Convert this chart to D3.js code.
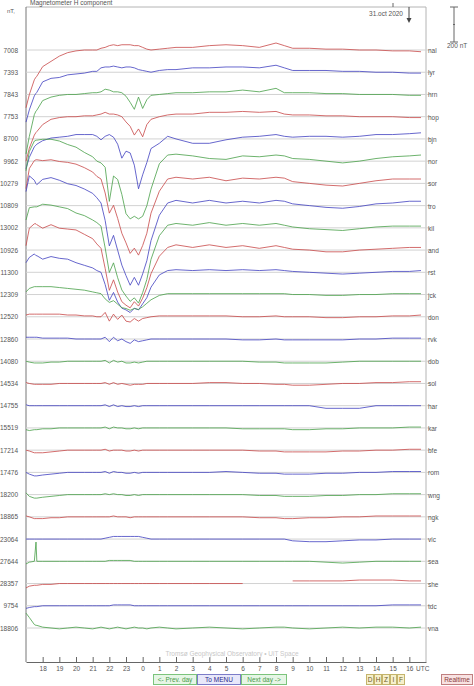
<!DOCTYPE html>
<html>
<head>
  <meta charset="utf-8">
  <title>Magnetometer H component - stackplot</title>
  <style>
    body { margin: 0; background: #fff; }
    svg { display: block; font-family: "Liberation Sans", Arial, sans-serif; }
  </style>
</head>
<body>
<svg width="474" height="686"></svg>
<script src="https://cdn.jsdelivr.net/npm/d3@7"></script>
<script>
// hours after 17 UTC (30 Oct) ... 17 UTC (31 Oct)
var hours = [0, 0.2, 0.5, 0.6, 0.65, 1, 1.5, 2, 2.5, 3, 3.5, 4, 4.25, 4.5, 4.75,
  5, 5.25, 5.5, 5.75, 6, 6.25, 6.5, 6.75, 7, 7.25, 7.5, 8, 8.5, 9, 10,
  11, 12, 13, 14, 15, 15.5, 16, 17, 18, 19, 20, 21, 22, 23, 23.7];

var stations = ["nal", "lyr", "hrn", "hop", "bjn", "nor", "sor", "tro", "kil", "and",
  "rst", "jck", "don", "rvk", "dob", "sol", "har", "kar", "bfe", "rom",
  "wng", "ngk", "vic", "sea", "she", "tdc", "vna"];

// baseline of each trace (nT)
var baseLabels = ["7008", "7393", "7843", "7753", "8700", "9962", "10279", "10809", "13002", "10926",
  "11300", "12309", "12520", "12860", "14080", "14534", "14755", "15519", "17214", "17476",
  "18200", "18865", "23064", "27644", "28357", "9754", "18806"];

var tickHours = [1, 2, 3, 4, 5, 6, 7, 8, 9, 10, 11, 12, 13, 14, 15, 16, 17, 18, 19, 20, 21, 22, 23];
var tickLabels = ["18", "19", "20", "21", "22", "23", "0", "1", "2", "3", "4", "5", "6", "7", "8",
  "9", "10", "11", "12", "13", "14", "15", "16"];

// H deviation from baseline, nT
var nal = [-330,-255,-170,-155,-150,-95,-65,-35,-15,-5,0,0,0,10,15,25,30,25,30,30,30,25,25,15,5,0,5,10,15,15,25,30,25,15,40,25,10,10,5,5,0,0,-5,-5,-10];
var lyr = [-285,-215,-135,-120,-115,-55,-35,-30,-15,-10,-5,5,5,25,30,30,35,30,25,30,30,25,15,10,5,0,10,15,15,25,25,30,30,25,40,25,10,10,10,5,5,0,0,-5,-5];
var hrn = [-340,-240,-115,-95,-90,-35,-15,-5,0,0,5,10,10,15,30,25,15,15,10,-10,-45,-85,-15,-80,-30,-5,0,5,10,10,15,15,25,15,35,10,10,10,5,5,0,0,0,-5,-5];
var hop = [-255,-180,-105,-90,-85,-45,-15,-5,0,0,5,5,10,15,25,15,15,10,0,-30,-55,-105,-70,-115,-45,-15,0,10,15,15,25,25,30,25,30,15,10,10,5,5,0,0,0,-5,-5];
var bjn = [-170,-105,-45,-35,-30,-10,5,10,15,25,25,25,15,-5,15,25,10,-30,-110,-70,-80,-150,-285,-205,-135,-55,-25,15,0,-25,-25,-5,10,15,25,15,10,15,15,10,15,25,25,30,35];
var nor = [-55,55,115,120,120,125,125,115,95,80,50,25,0,-10,-35,-230,-85,-105,-190,-300,-330,-315,-330,-315,-255,-160,-15,35,40,30,15,10,30,25,35,30,15,10,0,-10,0,15,25,30,35];
var sor = [-30,85,130,135,135,130,135,125,120,110,90,65,40,25,-55,-170,-125,-200,-285,-340,-400,-370,-410,-355,-285,-170,-45,25,35,25,35,15,30,25,35,30,10,0,-10,-15,0,15,25,25,25];
var tro = [80,170,145,125,120,150,160,145,125,115,95,70,45,15,-85,-230,-170,-255,-340,-400,-455,-410,-455,-390,-315,-200,-55,15,30,15,30,15,25,15,30,25,10,0,-10,-15,-5,10,15,25,25];
var kil = [45,115,120,120,120,135,130,120,110,85,70,45,30,10,-115,-255,-200,-285,-355,-390,-420,-400,-430,-370,-295,-180,-45,15,25,15,30,15,25,15,25,15,5,-5,-10,-15,-5,5,10,10,10];
var and = [25,125,150,150,145,125,145,125,120,115,90,65,35,10,-105,-230,-170,-240,-295,-315,-330,-295,-320,-275,-215,-135,-35,15,30,15,30,15,25,10,25,15,5,0,-10,-10,0,5,10,15,15];
var rst = [55,85,105,95,95,75,90,80,75,55,40,25,10,0,-70,-160,-115,-170,-205,-215,-230,-205,-215,-180,-145,-85,-15,10,15,10,15,10,15,10,15,10,5,0,-5,-10,-5,0,5,5,10];
var jck = [15,35,45,45,45,45,45,40,35,30,25,15,10,5,-25,-45,-35,-55,-75,-80,-90,-80,-85,-70,-50,-30,-5,5,5,5,5,5,5,5,5,5,0,0,-5,-5,0,0,5,5,5];
var don = [10,15,15,15,15,15,15,15,10,10,5,5,0,0,25,-25,15,-15,10,-25,-30,-10,-25,-10,-5,0,5,5,5,5,5,5,0,0,5,0,0,0,-5,-5,0,0,5,5,10];
var rvk = [10,10,10,10,10,5,5,5,5,0,0,0,0,0,10,-15,10,-10,0,-15,-25,-5,-15,-10,-5,0,0,0,0,0,0,0,-5,-5,0,-5,-5,-5,-5,-5,0,0,5,5,5];
var dob = [0,-5,-10,-10,-10,-10,-5,-5,0,0,0,0,0,0,5,-10,5,-5,0,-10,-10,-5,-10,-5,0,0,0,0,0,0,0,0,0,-5,-5,-10,-10,-10,-10,-5,0,0,0,0,0];
var sol = [5,0,-5,-5,-5,-5,-5,0,0,0,0,0,0,0,5,-5,5,-5,0,-5,-10,-5,-5,-5,0,0,0,0,0,0,5,5,0,0,-5,-5,-10,-10,-5,0,0,5,5,10,10];
var har = [5,0,0,0,0,0,0,0,0,0,0,0,0,0,5,-5,5,-5,0,-5,-5,0,-5,0,0,0,0,0,0,0,0,0,0,0,0,0,0,0,-15,-15,-15,0,0,0,0];
var kar = [-10,-15,-10,-10,-10,-5,-5,0,0,0,0,0,0,0,5,-5,5,0,0,-5,-5,0,-5,0,0,0,0,0,0,0,0,0,-5,-5,-5,-5,-10,-10,-5,-5,0,0,0,5,5];
var bfe = [0,-5,-15,-15,-15,-15,-10,-5,0,0,0,0,0,0,5,-5,0,0,0,-5,-5,0,-5,0,0,0,0,0,0,0,0,0,0,-5,-5,-10,-10,-10,-10,-5,-5,0,0,5,5];
var rom = [0,-10,-20,-20,-20,-15,-10,-5,0,0,0,0,0,0,5,-5,5,0,0,-5,-5,0,-5,0,0,0,0,0,0,0,0,5,0,-5,-5,-10,-10,-10,-5,-5,0,0,5,5,5];
var wng = [10,-10,-20,-20,-20,-15,-10,-5,0,0,0,0,0,0,5,0,5,0,0,-5,-5,0,-5,0,0,0,0,0,0,0,0,0,0,-5,-5,-10,-10,-10,-5,-5,0,0,5,5,5];
var ngk = [5,0,-10,-10,-10,-10,-5,-5,0,0,0,0,0,0,0,0,5,0,0,0,-5,0,0,0,0,0,0,0,0,0,0,0,0,-5,-5,-10,-10,-5,-5,0,0,5,5,5,5];
var vic = [0,0,0,0,0,0,0,0,0,0,0,0,0,0,5,10,15,15,15,15,15,15,15,10,5,0,0,0,0,0,0,0,0,0,0,0,-10,-15,-15,-10,-5,-5,0,0,0];
var sea = [-15,-5,0,110,0,0,0,0,0,0,0,0,0,0,0,5,5,5,5,5,5,0,0,0,0,0,0,0,0,0,0,0,0,0,0,0,0,0,-5,-10,-5,0,0,0,0];
var she = [-25,-15,-10,-10,-10,-5,-5,0,0,0,0,0,0,0,0,0,0,0,0,0,0,0,0,0,0,0,0,0,0,0,0,0,0,null,null,null,15,15,15,15,20,20,20,15,15];
var tdc = [-15,-10,-5,-5,-5,0,0,0,0,0,0,0,0,0,0,0,5,5,5,5,5,0,0,0,0,0,0,0,0,0,0,0,0,0,0,0,0,0,0,0,0,0,5,5,5];
var vna = [85,60,20,15,15,5,0,-5,0,5,0,-5,0,5,0,-5,0,5,0,-5,0,5,0,0,-5,0,5,0,-5,0,5,0,-5,0,5,5,0,-5,0,5,0,5,5,0,5];

var series = [nal, lyr, hrn, hop, bjn, nor, sor, tro, kil, and, rst, jck, don, rvk,
  dob, sol, har, kar, bfe, rom, wng, ngk, vic, sea, she, tdc, vna];
var colors = ["#c84848", "#4040c0", "#48a048"];

var svg = d3.select("svg");

var x = d3.scaleLinear().domain([0, 24]).range([26, 426]);
var row = d3.scaleLinear().domain([0, stations.length - 1]).range([50, 628]);
var nT = d3.scaleLinear().domain([0, 200]).range([0, -35]);

// frame
svg.append("line").attr("x1", 26).attr("x2", 426).attr("y1", 7).attr("y2", 7)
  .attr("stroke", "#b4b4b4");
svg.append("line").attr("x1", 426).attr("x2", 426).attr("y1", 7).attr("y2", 662)
  .attr("stroke", "#b4b4b4");
svg.append("line").attr("x1", 26).attr("x2", 26).attr("y1", 7).attr("y2", 662)
  .attr("stroke", "#777");

// baselines
svg.append("g").selectAll("line")
  .data(stations)
  .enter()
  .append("line")
  .attr("x1", 26).attr("x2", 431)
  .attr("y1", function(d, i) { return row(i); })
  .attr("y2", function(d, i) { return row(i); })
  .attr("stroke", "#d2d2d2")
  .attr("stroke-width", 1);

// traces
var traces = svg.append("g").attr("fill", "none").attr("stroke-width", 0.8);
series.forEach(function(vals, i) {
  var line = d3.line()
    .defined(function(d) { return d != null; })
    .x(function(d, j) { return x(hours[j]); })
    .y(function(d) { return row(i) + nT(d); });
  traces.append("path")
    .attr("d", line(vals))
    .attr("stroke", colors[i % 3]);
});

// labels
svg.append("g").selectAll("text")
  .data(baseLabels)
  .enter()
  .append("text")
  .attr("x", 18)
  .attr("y", function(d, i) { return row(i) + 2.5; })
  .attr("text-anchor", "end")
  .attr("font-size", 6.5)
  .attr("fill", "#555")
  .text(function(d) { return d; });

svg.append("g").selectAll("text")
  .data(stations)
  .enter()
  .append("text")
  .attr("x", 428)
  .attr("y", function(d, i) { return row(i) + 3; })
  .attr("font-size", 6.5)
  .attr("fill", "#555")
  .text(function(d) { return d; });

// time axis
var axis = svg.append("g")
  .attr("transform", "translate(0,662)")
  .call(d3.axisBottom(x)
    .tickValues(tickHours)
    .tickFormat(function(d, i) { return tickLabels[i]; })
    .tickSizeInner(-5)
    .tickSizeOuter(0)
    .tickPadding(4));
axis.select(".domain").attr("stroke", "#666");
axis.selectAll(".tick line").attr("stroke", "#666");
axis.selectAll("text").attr("font-size", 6.5).attr("fill", "#555")
  .attr("font-family", "Liberation Sans, Arial, sans-serif");
svg.append("text").attr("x", 416).attr("y", 671).attr("font-size", 6.5)
  .attr("fill", "#555").text("UTC");

// header
svg.append("text").attr("x", 30).attr("y", 5).attr("font-size", 6.5)
  .attr("fill", "#555").text("Magnetometer H component");
svg.append("text").attr("x", 7).attr("y", 13).attr("font-size", 6)
  .attr("fill", "#555").text("nT,");
svg.append("text").attr("x", 403).attr("y", 16).attr("font-size", 6.5)
  .attr("text-anchor", "end").attr("fill", "#555").text("31.oct 2020");
svg.append("line").attr("x1", 409).attr("x2", 409).attr("y1", 7).attr("y2", 21)
  .attr("stroke", "#444");
svg.append("path").attr("d", "M406.5,18 L409,23 L411.5,18 Z").attr("fill", "#444");
svg.append("line").attr("x1", 393).attr("x2", 393).attr("y1", 3).attr("y2", 7)
  .attr("stroke", "#666");

// 200 nT scale
var sc = svg.append("g").attr("stroke", "#666");
sc.append("line").attr("x1", 454).attr("x2", 454).attr("y1", 7).attr("y2", 7 - nT(200));
sc.append("line").attr("x1", 450).attr("x2", 458).attr("y1", 7).attr("y2", 7);
sc.append("line").attr("x1", 450).attr("x2", 458).attr("y1", 7 - nT(200)).attr("y2", 7 - nT(200));
sc.append("line").attr("x1", 453).attr("x2", 455).attr("y1", 7 - nT(100)).attr("y2", 7 - nT(100));
svg.append("text").attr("x", 447).attr("y", 48).attr("font-size", 6.5)
  .attr("fill", "#555").text("200 nT");

// footer
svg.append("text").attr("x", 232).attr("y", 656).attr("font-size", 6.5)
  .attr("text-anchor", "middle").attr("fill", "#c8c8c8")
  .text("Tromsø Geophysical Observatory • UiT Space");

var buttons = [
  {label: "<- Prev. day", x0: 153, x1: 196, fill: "#e6f6e6", stroke: "#7cc47c", text: "#4a9a4a"},
  {label: "To MENU", x0: 197, x1: 240, fill: "#e8e8fa", stroke: "#7c7cc8", text: "#2a2a8a"},
  {label: "Next day ->", x0: 241, x1: 286, fill: "#e6f6e6", stroke: "#7cc47c", text: "#4a9a4a"},
  {label: "D", x0: 366, x1: 373, fill: "#f6f0cc", stroke: "#c4b46c", text: "#6a5a2a"},
  {label: "H", x0: 374, x1: 381, fill: "#f6f0cc", stroke: "#c4b46c", text: "#6a5a2a"},
  {label: "Z", x0: 382, x1: 389, fill: "#f6f0cc", stroke: "#c4b46c", text: "#6a5a2a"},
  {label: "I", x0: 390, x1: 396, fill: "#f6f0cc", stroke: "#c4b46c", text: "#6a5a2a"},
  {label: "F", x0: 397, x1: 404, fill: "#f6f0cc", stroke: "#c4b46c", text: "#6a5a2a"},
  {label: "Realtime", x0: 441, x1: 472, fill: "#f8e2e2", stroke: "#c08080", text: "#8a3a3a"}
];
var btn = svg.append("g").selectAll("g").data(buttons).enter().append("g");
btn.append("rect")
  .attr("x", function(d) { return d.x0 + 0.5; })
  .attr("y", 674.5)
  .attr("width", function(d) { return d.x1 - d.x0; })
  .attr("height", 10)
  .attr("fill", function(d) { return d.fill; })
  .attr("stroke", function(d) { return d.stroke; });
btn.append("text")
  .attr("x", function(d) { return (d.x0 + d.x1) / 2 + 0.5; })
  .attr("y", 682)
  .attr("text-anchor", "middle")
  .attr("font-size", 6.5)
  .attr("fill", function(d) { return d.text; })
  .text(function(d) { return d.label; });
</script>
</body>
</html>
